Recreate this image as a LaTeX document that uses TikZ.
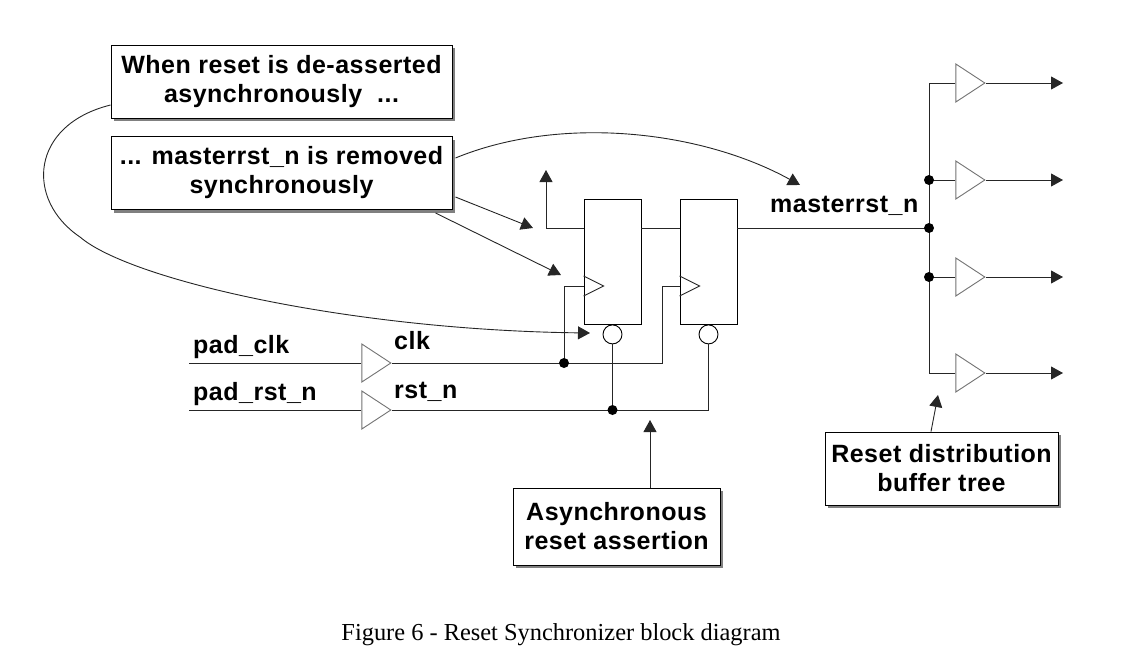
\documentclass[tikz,border=0pt]{standalone}
\usepackage{fontspec}
\setmainfont{Liberation Serif}
\setsansfont{Liberation Sans}[LetterSpace=2.0]
\usetikzlibrary{calc,arrows,arrows.meta,positioning,shapes.geometric,shadows}

\begin{document}
\begin{tikzpicture}[x=1pt,y=-1pt,
    wire/.style={line width=0.9pt,draw=black!85},
    tip/.style={wire,-{Triangle[length=12pt,width=13pt]}},
    % The note boxes:
    note/.style={
    rectangle,draw,line width=0.9pt,fill=white,
    minimum height=73pt,align=center,inner sep=4pt,
    font=\sffamily\bfseries\fontsize{25}{29}\selectfont,
    drop shadow={shadow xshift=3pt,shadow yshift=-3pt,fill=black!50,opacity=1}},
    signal/.style={font=\sffamily\bfseries\fontsize{25}{29}\selectfont,inner sep=0pt,anchor=base west},
    % The gates:
    buffer/.style={isosceles triangle,isosceles triangle stretches,
    draw=black!55,line width=0.9pt,fill=white,
    minimum width=38pt,minimum height=29pt,inner sep=0pt},
    flop/.style={rectangle,draw,line width=0.9pt,minimum width=57pt,minimum height=125pt,inner sep=0pt},
    bubble/.style={circle,draw,line width=0.9pt,minimum size=19pt,inner sep=0pt},
    joint/.style={circle,fill,minimum size=10pt,inner sep=0pt}]
    \useasboundingbox (0,0) rectangle (1137,653);

    % notes
    \node (n1) [note,minimum width=341pt] at (281.5,81.5) {When reset is de-asserted\\asynchronously\ \ ...};
    \node (n2) [note,minimum width=341pt] at (281.5,173) {... masterrst\_n is removed\\synchronously};
    \node (n3) [note,minimum width=207pt,minimum height=77pt] at (616.5,526.5) {Asynchronous\\reset assertion};
    \node (n4) [note,minimum width=233pt] at (941.5,468.5) {Reset distribution\\buffer tree};

    % input pads
    \coordinate (pclk) at (189,363);
    \coordinate (prst) at (189,410);
    \node (bclk) [buffer,anchor=apex] at (392,363) {};
    \node (brst) [buffer,anchor=apex] at (392,410) {};
    \draw[wire] (pclk) -- (bclk.west);
    \draw[wire] (prst) -- (brst.west);
    \node (lpclk) [signal] at (193,353) {pad\_clk};
    \node (lprst) [signal] at (193,400) {pad\_rst\_n};
    \node (lclk) [signal] at (394,349) {clk};
    \node (lrst) [signal] at (394,398) {rst\_n};

    % synchronizer flops
    \node (ff1) [flop] at (612.5,261.5) {};
    \node (ff2) [flop] at (708.5,261.5) {};
    \node (bub1) [bubble,below=0pt of ff1] {};
    \node (bub2) [bubble,below=0pt of ff2] {};
    \foreach \f in {ff1,ff2}
      \draw[wire] ($(\f.west)+(0,14.5)$) -- ($(\f.west)+(20,24.5)$) -- ($(\f.west)+(0,34.5)$);

    % data path
    \coordinate (din) at (546,228);
    \coordinate (dtop) at (546,170);
    \coordinate (bus) at (929,228);
    \draw[tip] (ff1.west |- din) -- (din) -- (dtop);
    \draw[wire] (ff1.east |- din) -- (ff2.west |- din);
    \draw[wire] (ff2.east |- din) -- (bus);
    \node (lmrst) [signal] at (770,212) {masterrst\_n};

    % clock
    \coordinate (cj) at (564,363);
    \coordinate (cturn) at (662,363);
    \draw[wire] (bclk.apex) -- (cturn) |- ($(ff2.west)+(0,24.5)$);
    \draw[wire] (cj) |- ($(ff1.west)+(0,24.5)$);
    \node[joint] at (cj) {};

    % reset
    \draw[wire] (brst.apex) -- (bub2.south |- brst.apex) -- (bub2.south);
    \draw[wire] (bub1.south) -- (bub1.south |- brst.apex);
    \node[joint] at (bub1.south |- brst.apex) {};

    % buffer tree
    \foreach \y/\n in {83/1,180/2,277/3,373/4} {
      \node (bt\n) [buffer,anchor=apex] at (986,\y) {};
      \coordinate (out\n) at (1063,\y);
      \draw[tip] (bt\n.apex) -- (out\n);
      \draw[wire] (bt\n.west) -- (bt\n.west -| bus);
    }
    \draw[wire] (bt1.west -| bus) -- (bt4.west -| bus);
    \node[joint] at (bus) {};
    \node[joint] at (bt2.west -| bus) {};
    \node[joint] at (bt3.west -| bus) {};

    % note arrows
    \coordinate (rstin) at (590,333);
    \coordinate (mtip) at (800,185);
    \coordinate (atip) at (650,420);
    \coordinate (rtip) at (938,395);
    \draw[tip] ($(n1.west)+(0,23.5)$) .. controls (30,125) and (25,200) .. (80,237)
      .. controls (130,280) and (350,330) .. (rstin);
    \draw[tip] ($(n2.east)+(3,-15)$) .. controls (560,115) and (700,130) .. (mtip);
    \draw[tip] ($(n2.east)+(3,24)$) -- (533,228);
    \draw[tip] ($(n2.south east)+(-17,3)$) -- (561,275);
    \draw[tip] (atip |- n3.north) -- (atip);
    \draw[tip] ($(n4.north)+(-10.5,0)$) -- (rtip);

    % caption
    \node (cap) [anchor=base,font=\rmfamily\fontsize{24.4}{28}\selectfont] at (561,640) {Figure 6 - Reset Synchronizer block diagram};
\end{tikzpicture}
\end{document}
